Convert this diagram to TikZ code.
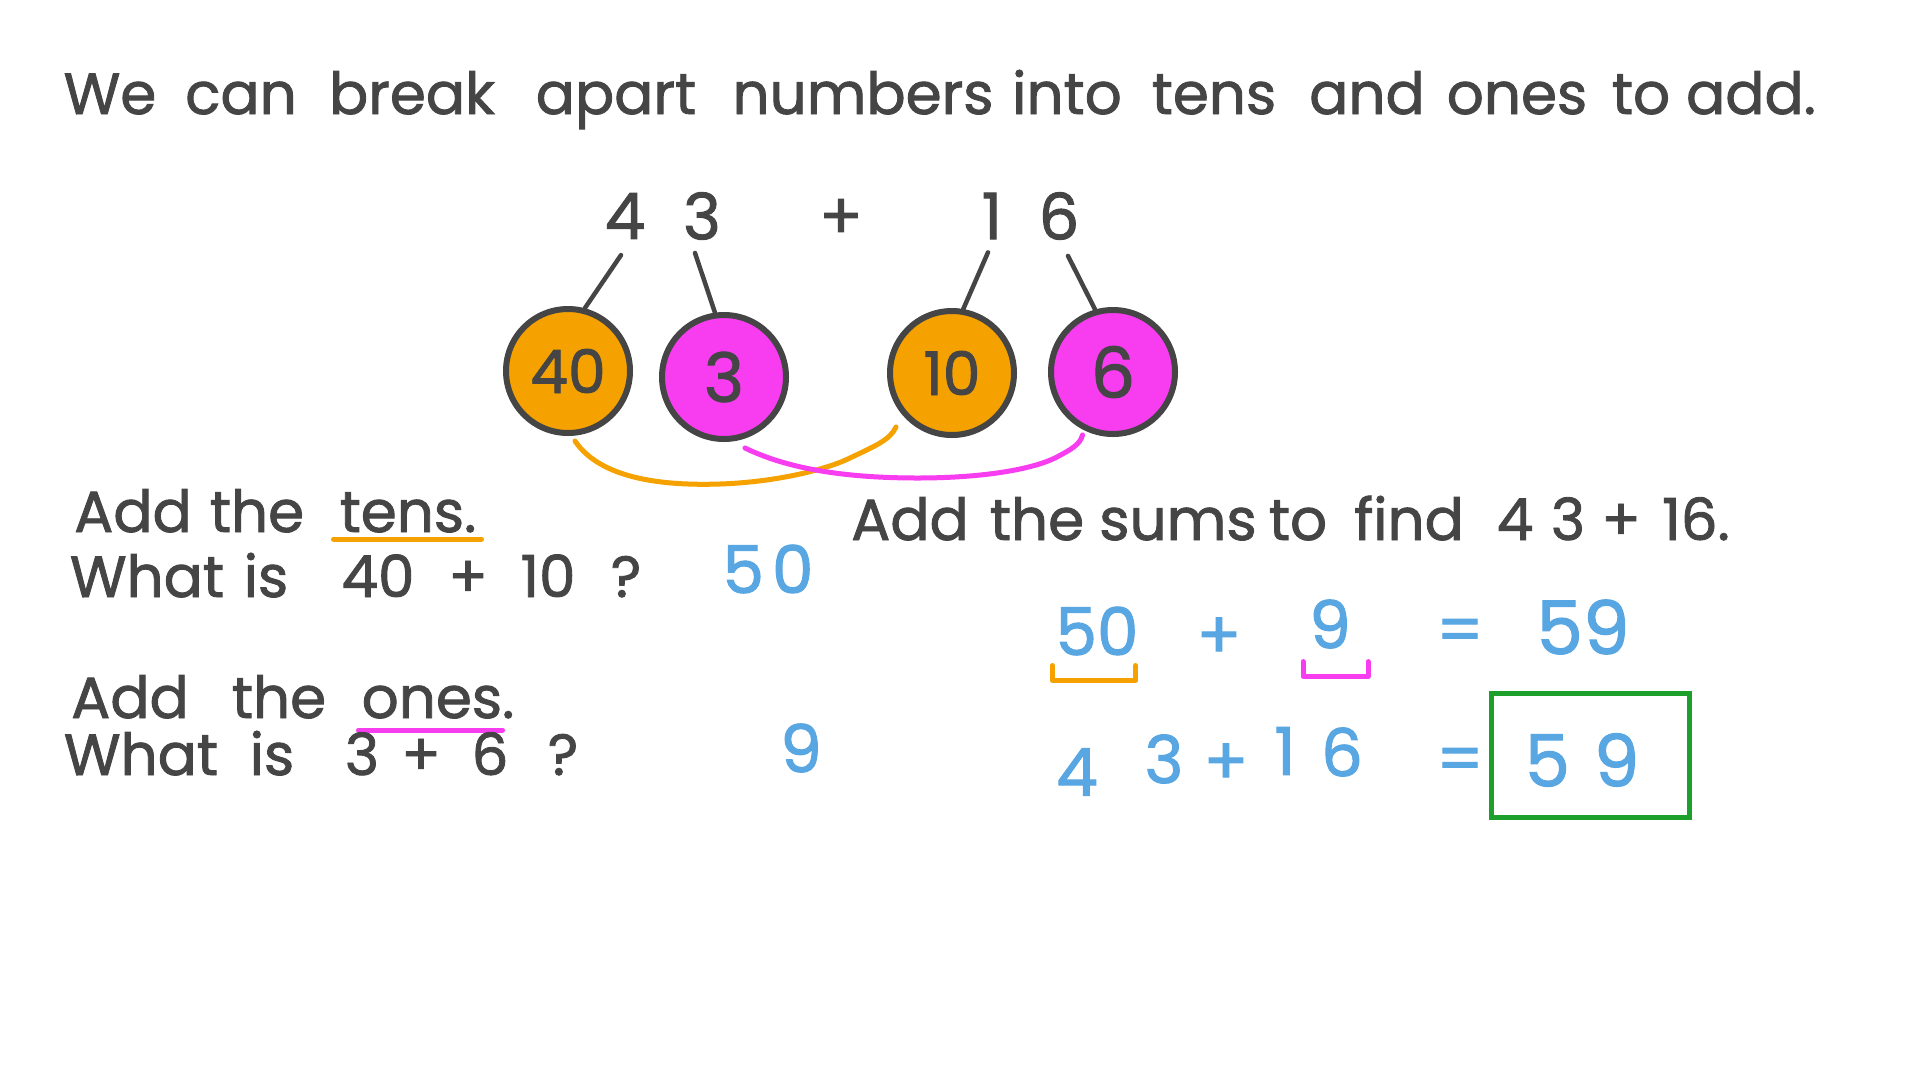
\documentclass[tikz,border=0pt]{standalone}
\usepackage{fontspec}
\setmainfont{Poppins}[FakeBold=1.5]
\usetikzlibrary{calc}
\definecolor{ink}{HTML}{454545}
\definecolor{orng}{HTML}{F5A200}
\definecolor{mgnt}{HTML}{F83CF0}
\definecolor{blu}{HTML}{58A6E2}
\definecolor{grn}{HTML}{1C9F2B}
\tikzset{
  txt/.style={font=\fontsize{58}{60}\selectfont, text=ink, inner sep=0pt, anchor=base},
  dig/.style={font=\fontsize{64}{66}\selectfont, text=ink, inner sep=0pt},
  bdig/.style={font=\fontsize{66}{68}\selectfont, text=blu, inner sep=0pt},
  ball/.style={circle, draw=ink, line width=6pt, minimum size=124pt, inner sep=0pt,
     font=\fontsize{60}{62}\selectfont, text=ink},
  conn/.style={draw=ink, line width=4.5pt, line cap=round},
  ul/.style={line width=5pt, line cap=round, line join=round},
}
\begin{document}
\begin{tikzpicture}[x=1pt,y=-1pt]
\useasboundingbox[fill=white] (0,0) rectangle (1920,1080);

% title
\node[txt] (t1) at (110,114) {We};
\node[txt] (t2) at (241,114) {can};
\node[txt] (t3) at (412,114) {break};
\node[txt] (t4) at (616,114) {apart};
\node[txt] (t5) at (863,114) {numbers};
\node[txt] (t6) at (1067,114) {into};
\node[txt] (t7) at (1214,114) {tens};
\node[txt] (t8) at (1367,114) {and};
\node[txt] (t9) at (1517,114) {ones};
\node[txt] (t10) at (1641,114) {to};
\node[txt] (t11) at (1751,114) {add.};

% top numbers
\node[dig] (n4) at (625,216) {4};
\node[dig] (n3) at (702,216) {3};
\node[dig] (np) at (841,219) {+};
\node[dig] (n1) at (992,216) {1};
\node[dig] (n6) at (1059,216) {6};

% circles
\node[ball, fill=orng] (c40) at (568,371) {40};
\node[ball, fill=mgnt, font=\fontsize{68}{70}\selectfont] (c3) at (724,377) {3};
\node[ball, fill=orng] (c10) at (952,373) {10};
\node[ball, fill=mgnt, font=\fontsize{70}{72}\selectfont] (c6) at (1113,372) {6};

% connectors
\draw[conn] ($(n4.south)+(-4,16)$) -- (c40.75);
\draw[conn] ($(n3.south)+(-7,13)$) -- (c3.98);
\draw[conn] ($(n1.south)+(-4,13)$) -- (c10.80);
\draw[conn] ($(n6.south)+(9,16)$) -- (c6.106);

% pairing curves
\draw[ul, orng] ($(c40.south)+(7,5)$) .. controls (600,478) and (660,486) .. (720,484)
   .. controls (780,482) and (830,468) .. (850,458)
   .. controls (875,446) and (890,440) .. ($(c10.225)+(-10,8)$);
\draw[ul, mgnt] ($(c3.south)+(21,6)$) .. controls (790,470) and (850,478) .. (918,478)
   .. controls (980,478) and (1030,470) .. (1055,458)
   .. controls (1070,450) and (1080,445) .. ($(c6.245)+(-3,4)$);

% left column
\node[txt] (a1) at (133,532) {Add};
\node[txt] (a2) at (257,532) {the};
\node[txt] (a3) at (408,532) {tens.};
\draw[ul, orng] ($(a3.base west)+(-6,7)$) -- ($(a3.base east)+(5,7)$);

\node[txt] (b1) at (147,597) {What};
\node[txt] (b2) at (266,597) {is};
\node[txt] (b3) at (378,597) {40};
\node[txt] (b4) at (468,597) {+};
\node[txt] (b5) at (548,597) {10};
\node[txt] (b6) at (626,597) {?};
\node[bdig] (a50) at (768,569) {5\hspace{8pt}0};

\node[txt] (c1) at (130,718) {Add};
\node[txt] (c2) at (279,718) {the};
\node[txt] (c3w) at (438,718) {ones.};
\draw[ul, mgnt] ($(c3w.base west)+(-3,12)$) -- ($(c3w.base east)+(-12,12)$);

\node[txt] (d1) at (141,775) {What};
\node[txt] (d2) at (272,775) {is};
\node[txt] (d3) at (362,775) {3};
\node[txt] (d4) at (421,775) {+};
\node[txt] (d5) at (490,775) {6};
\node[txt] (d6) at (563,775) {?};
\node[bdig] (a9) at (801,748) {9};

% right column
\node[txt] (e1) at (910,540) {Add};
\node[txt] (e2) at (1037,540) {the};
\node[txt] (e3) at (1178,540) {sums};
\node[txt] (e4) at (1298,540) {to};
\node[txt] (e5) at (1409,540) {find};
\node[txt] (e6) at (1515,540) {4};
\node[txt] (e7) at (1568,540) {3};
\node[txt] (e8) at (1621,540) {+};
\node[txt] (e9) at (1696,540) {16.};

\node[bdig] (r50) at (1097,631) {50};
\node[bdig] (rp) at (1219,638) {+};
\node[bdig] (r9) at (1330,624) {9};
\node[bdig] (req) at (1460,636) {=};
\node[bdig, font=\fontsize{74}{76}\selectfont] (r59) at (1583,627) {59};
\draw[ul, orng] ($(r50.south west)+(-3,10)$) -- ($(r50.south west)+(-3,25)$)
   -- ($(r50.south east)+(-3,25)$) -- ($(r50.south east)+(-3,10)$);
\draw[ul, mgnt] ($(r9.south)+(-27,13)$) -- ($(r9.south)+(-27,28)$)
   -- ($(r9.south)+(38,28)$) -- ($(r9.south)+(38,13)$);

\node[bdig] (s4) at (1077,772) {4};
\node[bdig] (s3) at (1164,759) {3};
\node[bdig] (sp) at (1226,764) {+};
\node[bdig] (s1) at (1285,751) {1};
\node[bdig] (s6) at (1342,752) {6};
\node[bdig] (seq) at (1460,765) {=};
\node[draw=grn, line width=5pt, minimum width=198pt, minimum height=124pt, inner sep=0pt]
   (box) at (1590,755) {};
\node[bdig, font=\fontsize{72}{74}\selectfont] (ans) at (1582,760) {5\hspace{24pt}9};
\end{tikzpicture}
\end{document}
